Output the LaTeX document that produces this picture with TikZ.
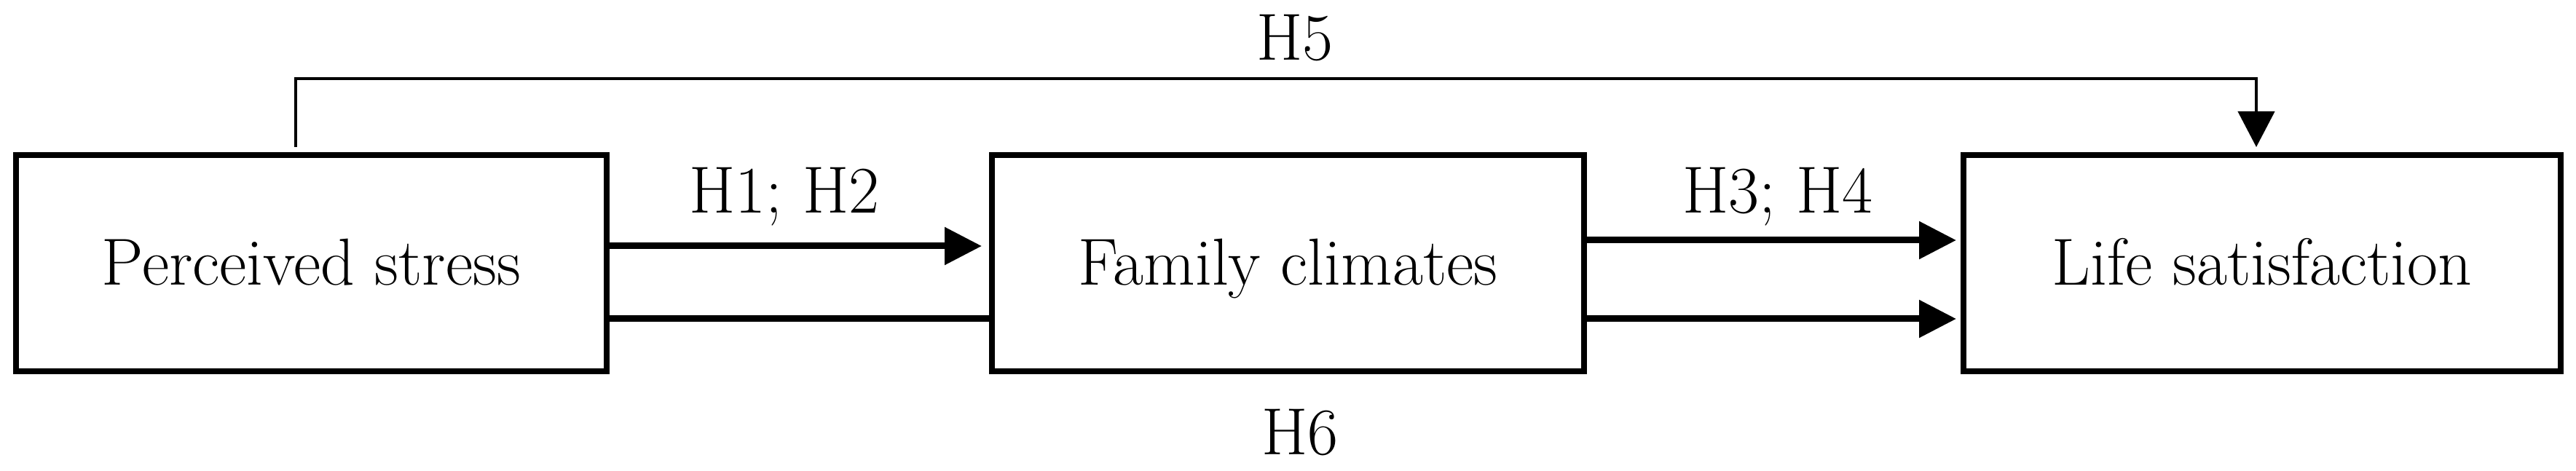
\documentclass[tikz,border=0pt]{standalone}
\usetikzlibrary{arrows.meta}
\begin{document}
\begin{tikzpicture}[
  txt/.style={font=\fontsize{26}{30}\selectfont},
  boxnode/.style={draw, line width=0.08cm, outer sep=0pt, minimum height=2.97cm,
    inner sep=0pt, txt, text height=0.81cm, text depth=0.2cm},
  thickarrow/.style={line width=0.09cm, -{Triangle[length=0.51cm,width=0.5cm]}},
  thickline/.style={line width=0.09cm},
  thinarrow/.style={line width=0.045cm, -{Triangle[length=0.49cm,width=0.5cm]}},
  lbl/.style={txt, anchor=base, inner sep=0pt}
]
\useasboundingbox (0,0) rectangle (35.37,6.47);
\node[boxnode, minimum width=8.11cm] (b1) at (4.275,2.855) {Perceived stress};
\node[boxnode, minimum width=8.13cm] (b2) at (17.685,2.855) {Family climates};
\node[boxnode, minimum width=8.20cm] (b3) at (31.06,2.855) {Life satisfaction};

% H1; H2
\draw[thickarrow] ([yshift=0.235cm]b1.east) -- ([yshift=0.235cm,xshift=-0.14cm]b2.west);
% H6
\draw[thickline] ([yshift=-0.765cm]b1.east) -- ([yshift=-0.765cm]b2.west);
\draw[thickarrow] ([yshift=-0.765cm]b2.east) -- ([yshift=-0.765cm,xshift=-0.10cm]b3.west);
% H3; H4
\draw[thickarrow] ([yshift=0.315cm]b2.east) -- ([yshift=0.315cm,xshift=-0.10cm]b3.west);
% H5
\coordinate (h5s) at ([xshift=-0.215cm,yshift=0.11cm]b1.north);
\coordinate (h5e) at ([xshift=-0.08cm,yshift=0.11cm]b3.north);
\draw[thinarrow] (h5s) -- ++(0,0.94) -| (h5e);

\node[lbl] (l12) at (10.77,3.54) {H1; H2};
\node[lbl] (l34) at (24.41,3.54) {H3; H4};
\node[lbl] (l5) at (17.78,5.64) {H5};
\node[lbl] (l6) at (17.85,0.22) {H6};
\end{tikzpicture}
\end{document}
